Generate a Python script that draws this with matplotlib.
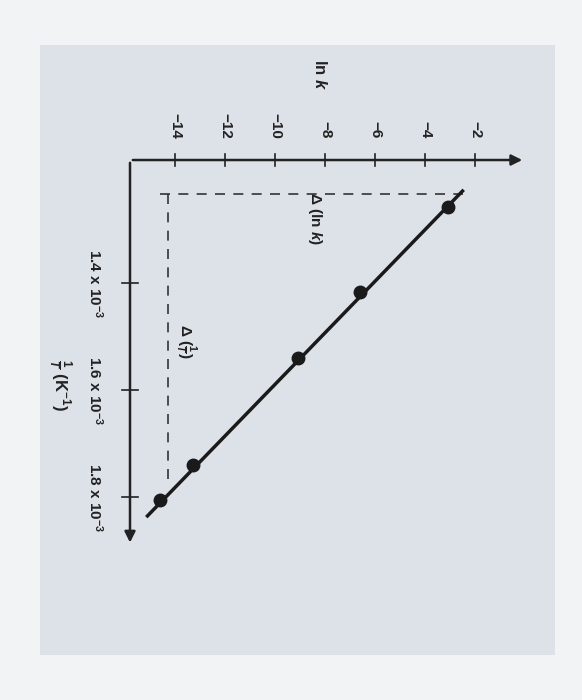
import matplotlib.pyplot as plt
from matplotlib.patches import Rectangle

plt.rcParams['font.family'] = ['Liberation Sans', 'DejaVu Sans']
plt.rcParams['mathtext.fontset'] = 'custom'
plt.rcParams['mathtext.rm'] = 'Liberation Sans:bold'
plt.rcParams['mathtext.it'] = 'Liberation Sans:bold:italic'

# data (chart drawn rotated, as in the photo): x = ln k, y = 1/T in 1e-3 K^-1
lnk_ticks = [-14, -12, -10, -8, -6, -4, -2]
invT_ticks = [1.4, 1.6, 1.8]
invT_labels = ['1.4 x 10$^{-3}$', '1.6 x 10$^{-3}$', '1.8 x 10$^{-3}$']
pts_lnk = [-3.1, -6.6, -9.1, -13.3, -14.6]
pts_invT = [1.258, 1.417, 1.540, 1.740, 1.805]
line_lnk = [-2.5, -15.1]
line_invT = [1.228, 1.835]

fig = plt.figure(figsize=(5.82, 7), dpi=100)
fig.patch.set_facecolor('#f2f3f5')
ax = fig.add_axes([0, 0, 1, 1])
ax.set_xlim(-21, 2.28)
ax.set_ylim(2.179, 0.871)
ax.axis('off')

ax.add_patch(Rectangle((40/582, 45/700), 515/582, 610/700, transform=ax.transAxes,
                       facecolor='#dde1e8', edgecolor='none', zorder=0))

x0, y0 = -16.0, 1.17
# axes with arrows
ax.annotate('', xy=(0.0, y0), xytext=(x0 + 0.2, y0),
            arrowprops=dict(arrowstyle='-|>', color='#222', lw=1.8, mutation_scale=16))
ax.annotate('', xy=(x0 + 0.2, 1.89), xytext=(x0 + 0.2, y0),
            arrowprops=dict(arrowstyle='-|>', color='#222', lw=1.8, mutation_scale=16))

for t in lnk_ticks:
    ax.plot([t, t], [y0 - 0.012, y0 + 0.012], color='#222', lw=1.2)
    ax.text(t, y0 - 0.04, '\u2212' + str(-t), rotation=-90, ha='center', va='bottom',
            fontsize=11, fontweight='bold', color='#222')
for t, lab in zip(invT_ticks, invT_labels):
    ax.plot([x0 - 0.1, x0 + 0.5], [t, t], color='#222', lw=1.2)
    ax.text(x0 - 0.8, t, lab, rotation=-90, ha='right', va='center',
            fontsize=11, fontweight='bold', color='#222')

ax.text(-8.2, 1.01, 'ln $\\mathit{k}$', rotation=-90, ha='center', va='center',
        fontsize=12, fontweight='bold', color='#222')
ax.text(-18.6, 1.59, '$\\frac{1}{T}$ (K$^{-1}$)', rotation=-90, ha='center', va='center',
        fontsize=12, fontweight='bold', color='#222')

# dashed construction lines
ax.plot([-14.6, -2.5], [1.233, 1.233], ls='--', color='#333', lw=1.2, dashes=(6, 5))
ax.plot([-14.3, -14.3], [1.233, 1.775], ls='--', color='#333', lw=1.2, dashes=(6, 5))
ax.text(-8.4, 1.28, '\u0394 (ln $\\mathit{k}$)', rotation=-90, ha='center', va='center',
        fontsize=11, fontweight='bold', color='#222')
ax.text(-13.6, 1.51, '\u0394 ($\\frac{1}{T}$)', rotation=-90, ha='center', va='center',
        fontsize=11, fontweight='bold', color='#222')

ax.plot(line_lnk, line_invT, color='#1a1a1a', lw=2.5)
ax.plot(pts_lnk, pts_invT, 'o', color='#1a1a1a', ms=9)

fig.savefig('out.png', dpi=100)
